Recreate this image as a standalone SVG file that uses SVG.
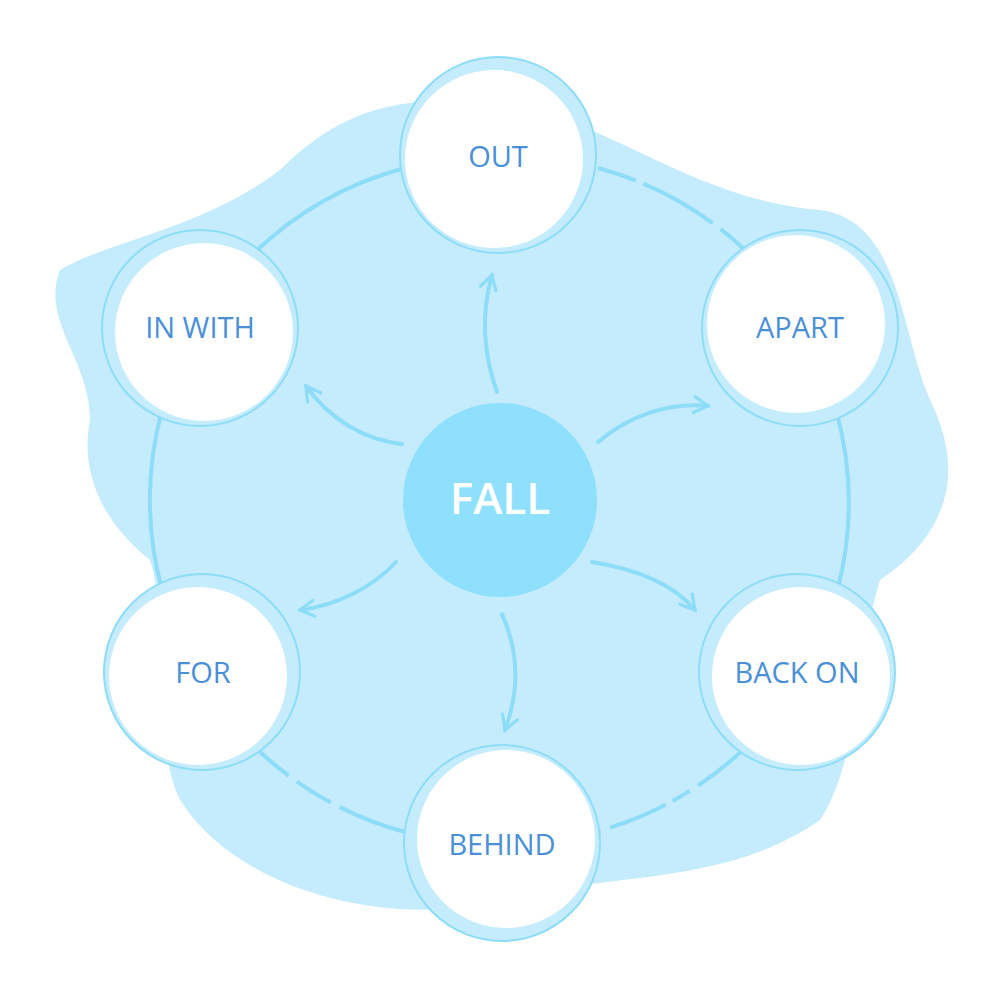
<svg xmlns="http://www.w3.org/2000/svg" width="1000" height="1000" viewBox="0 0 1000 1000">
<defs>
<style>
.ring{fill:#c5ecfc;stroke:#8ddcf8;stroke-width:2}
.inner{fill:#fff}
.lbl{font-family:"Open Sans",sans-serif;font-size:29px;fill:#4a90d9;text-anchor:middle;dominant-baseline:central}
.con{fill:none;stroke:#8ddcf8;stroke-width:4}
.arr{fill:none;stroke:#8ddcf8;stroke-width:4;stroke-linecap:round;marker-end:url(#ah)}
</style>
<marker id="ah" viewBox="0 0 10 10" refX="8" refY="5" markerWidth="5" markerHeight="5" orient="auto" markerUnits="strokeWidth">
<path d="M1,1 L8,5 L1,9" fill="none" stroke="#8ddcf8" stroke-width="1.6" stroke-linecap="round"/>
</marker>
</defs>
<path d="M60,270 C110,240 200,230 280,170 C340,110 400,90 520,105 C620,130 700,200 820,210 C900,220 900,330 930,400 C970,480 940,540 880,580 C860,640 860,760 820,820 C720,890 600,870 480,905 C360,925 230,880 180,800 C150,740 170,620 150,560 C100,520 80,470 90,420 C90,360 40,320 60,270 Z" fill="#c5ecfc"/>
<g id="connectors">
<path class="con" d="M252,255 A345,345 0 0 1 405,168"/>
<path class="con" d="M598,168 A345,345 0 0 1 745,250" stroke-dasharray="40,8,80,10"/>
<path class="con" d="M836,410 A345,345 0 0 1 838,588"/>
<path class="con" d="M745,748 A345,345 0 0 1 595,832" stroke-dasharray="60,10,20,8"/>
<path class="con" d="M405,832 A345,345 0 0 1 258,750" stroke-dasharray="70,10,40,10"/>
<path class="con" d="M162,590 A345,345 0 0 1 162,410"/>
<path class="arr" d="M497,392 C482,350 482,310 492,275"/>
<path class="arr" d="M598,442 C630,415 670,402 708,406"/>
<path class="arr" d="M592,562 C630,568 670,580 695,610"/>
<path class="arr" d="M502,614 C518,650 520,690 505,730"/>
<path class="arr" d="M396,562 C375,585 340,605 300,610"/>
<path class="arr" d="M402,444 C365,440 330,420 306,386"/>
</g>
<g id="center"><circle cx="500" cy="500" r="97" fill="#8ee0fd"/><text x="500" y="497" class="lbl" style="fill:#fff;font-size:44px;font-weight:600">FALL</text></g>
<g id="out"><circle class="ring" cx="498" cy="155" r="98"/><circle class="inner" cx="494" cy="159" r="89"/><text class="lbl" x="498" y="155">OUT</text></g>
<g id="apart"><circle class="ring" cx="800" cy="328" r="98"/><circle class="inner" cx="796" cy="324" r="89"/><text class="lbl" x="800" y="326">APART</text></g>
<g id="inwith"><circle class="ring" cx="200" cy="328" r="98"/><circle class="inner" cx="204" cy="332" r="89"/><text class="lbl" x="200" y="326">IN WITH</text></g>
<g id="for"><circle class="ring" cx="202" cy="672" r="98"/><circle class="inner" cx="198" cy="676" r="89"/><text class="lbl" x="203" y="671">FOR</text></g>
<g id="backon"><circle class="ring" cx="797" cy="672" r="98"/><circle class="inner" cx="801" cy="676" r="89"/><text class="lbl" x="797" y="671">BACK ON</text></g>
<g id="behind"><circle class="ring" cx="502" cy="843" r="98"/><circle class="inner" cx="506" cy="839" r="89"/><text class="lbl" x="502" y="843">BEHIND</text></g>
</svg>
